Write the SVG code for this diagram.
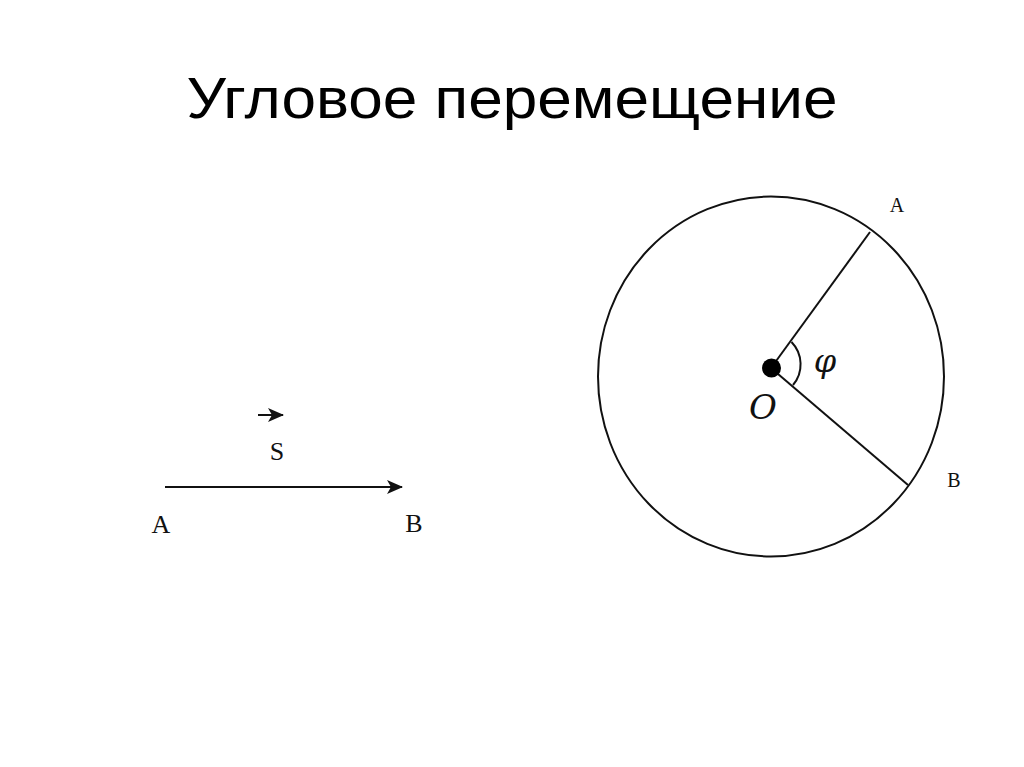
<svg xmlns="http://www.w3.org/2000/svg" width="1024" height="767" viewBox="0 0 1024 767">
<style>
.ln{stroke:#111;stroke-width:2;fill:none}
.lbl{font-family:"Liberation Serif",serif;fill:#111;text-anchor:middle}
.hand{font-family:"DejaVu Serif","Liberation Serif",serif;font-style:italic;fill:#111;text-anchor:middle}
</style>
<defs>
<marker id="ah" markerWidth="16" markerHeight="14" refX="15" refY="7" orient="auto" markerUnits="userSpaceOnUse">
<path d="M0,0 L16,7 L0,14 L4,7 Z" fill="#111"/>
</marker>
</defs>
<rect width="1024" height="767" fill="#fff"/>
<text x="512" y="118" font-family="Liberation Sans,Arial,sans-serif" font-size="58" text-anchor="middle" textLength="651" lengthAdjust="spacingAndGlyphs" fill="#000">Угловое перемещение</text>
<g id="linear">
<g id="connectors-left">
<line class="ln" x1="165" y1="487" x2="402" y2="487" marker-end="url(#ah)"/>
<line class="ln" x1="258" y1="415" x2="283" y2="415" stroke-width="2.5" marker-end="url(#ah)"/>
</g>
<g id="label-S"><text class="lbl" x="277" y="460" font-size="26">S</text></g>
<g id="label-A1"><text class="lbl" x="161" y="533" font-size="26">A</text></g>
<g id="label-B1"><text class="lbl" x="414" y="532" font-size="26">B</text></g>
</g>
<g id="circle-node">
<ellipse class="ln" cx="771" cy="376.5" rx="173" ry="180" stroke-width="1.8"/>
</g>
<g id="connectors">
<line class="ln" x1="771" y1="368" x2="870" y2="232"/>
<line class="ln" x1="771" y1="368" x2="908" y2="485"/>
<path class="ln" d="M791.5,342 A32,32 0 0 1 793,385" stroke-width="2.5"/>
</g>
<g id="center-O">
<circle cx="771.5" cy="368" r="9.5" fill="#000"/>
<text class="hand" x="763" y="419" font-size="34">O</text>
</g>
<g id="label-phi"><text class="hand" x="825" y="372" font-size="32">φ</text></g>
<g id="label-A2"><text class="lbl" x="897" y="212" font-size="20">A</text></g>
<g id="label-B2"><text class="lbl" x="954" y="487" font-size="20">B</text></g>
</svg>
